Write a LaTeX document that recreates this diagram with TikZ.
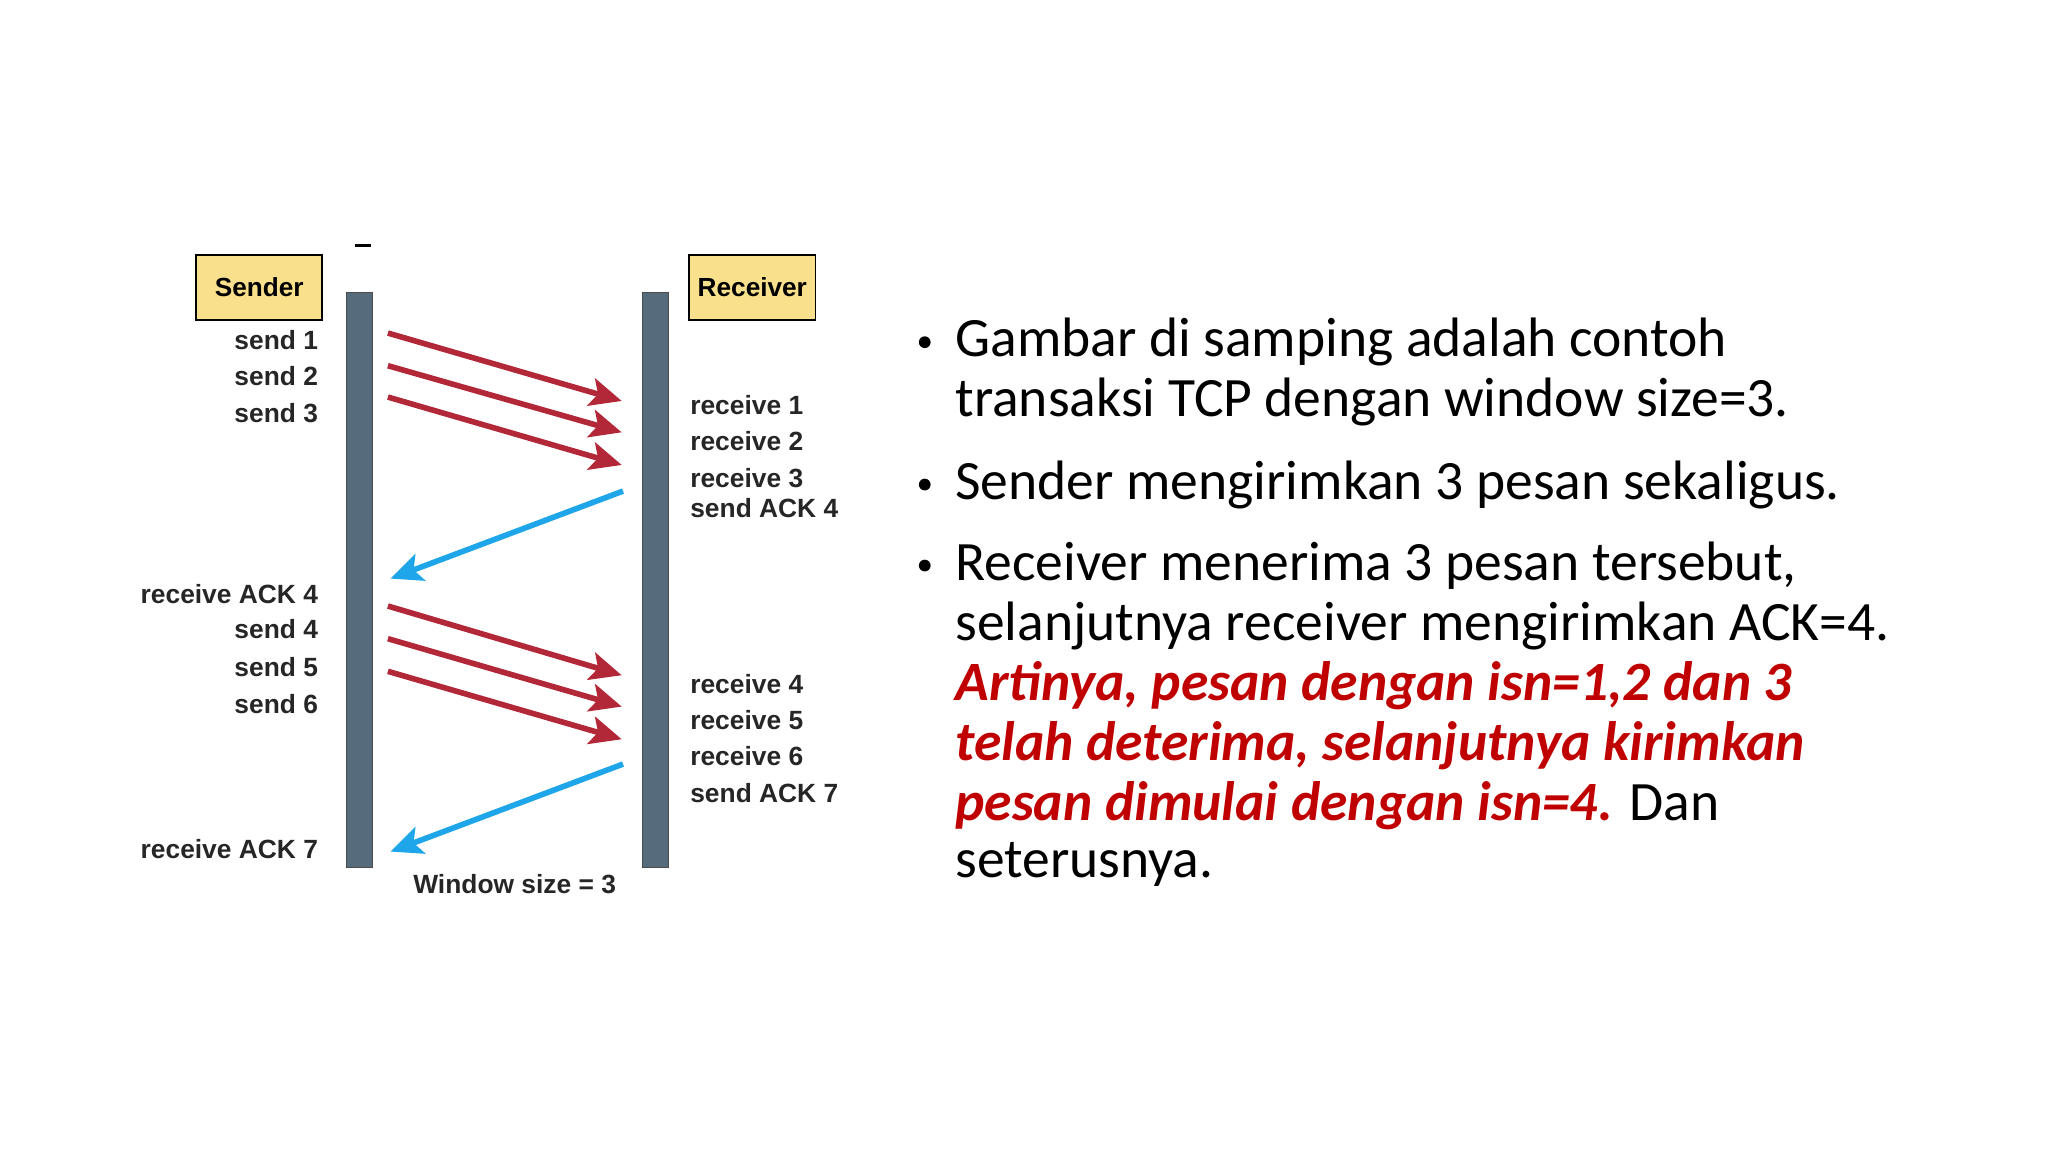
\documentclass[tikz,border=0pt]{standalone}
\usepackage{fontspec}
\setmainfont{Carlito}
\newfontfamily\lab{Liberation Sans}
\usetikzlibrary{arrows.meta}
\definecolor{boxy}{HTML}{F8E08C}
\definecolor{barc}{HTML}{566B7B}
\definecolor{redarr}{HTML}{B22838}
\definecolor{bluearr}{HTML}{1FA6EA}
\definecolor{redtxt}{HTML}{C00000}
\tikzset{
 hdr/.style={draw=black,fill=boxy,line width=0.5pt,minimum width=35.9pt,minimum height=18.5pt,inner sep=0pt,font=\lab\bfseries\fontsize{7.45}{8}\selectfont},
 bar/.style={draw=black!70,fill=barc,line width=0.3pt},
 lbl/.style={font=\lab\bfseries\fontsize{7.5}{8}\selectfont,inner sep=0pt,text=black!85},
 rarr/.style={draw=redarr,line width=1.6pt,-{Stealth[length=9pt,width=8pt,inset=2pt]}},
 barr/.style={draw=bluearr,line width=1.6pt,-{Stealth[length=9pt,width=8pt,inset=2pt]}},
 body/.style={font=\fontsize{15.8}{18}\selectfont,anchor=west,inner sep=0pt},
 emph/.style={body,font=\fontsize{15.8}{18}\selectfont\bfseries\itshape,text=redtxt}
}
\begin{document}
\begin{tikzpicture}[x=0.013062cm,y=-0.013062cm]
\useasboundingbox (0,0) rectangle (1568,882);
\node[hdr] (snd) at (198.5,220) {Sender};
\node[hdr] (rcv) at (576,220) {Receiver};
\draw[bar] (265,224) rectangle (285,664);
\draw[bar] (492,224) rectangle (512,664);
\draw[black,line width=1pt] (272,188) -- (284,188);
\foreach \t/\y [count=\i] in {send 1/260,send 2/288,send 3/316,receive ACK 4/455,send 4/482,send 5/511,send 6/539,receive ACK 7/650}
  \node[lbl,anchor=east] (sl\i) at (244,\y) {\t};
\foreach \t/\y [count=\i] in {receive 1/310,receive 2/338,receive 3/366,send ACK 4/389,receive 4/524,receive 5/551,receive 6/579,send ACK 7/607}
  \node[lbl,anchor=west] (rl\i) at (528,\y) {\t};
\node[lbl] (win) at (394,677) {Window size = 3};
\foreach \a/\b [count=\i] in {255/307,280/331,304/356,464/517,489/541,514/566}{
  \coordinate (rs\i) at (297,\a); \coordinate (re\i) at (476,\b);
  \draw[rarr] (rs\i) -- (re\i);}
\coordinate (bs1) at (477,376); \coordinate (be1) at (299,443);
\coordinate (bs2) at (477,585); \coordinate (be2) at (299,652);
\draw[barr] (bs1) -- (be1);
\draw[barr] (bs2) -- (be2);
\foreach \y in {262,371,433} \fill (708,\y) circle (4.5);
\node[body] (t1) at (731,262) {Gambar di samping adalah contoh};
\node[body] (t2) at (731,308) {transaksi TCP dengan window size=3.};
\node[body] (t3) at (731,371) {Sender mengirimkan 3 pesan sekaligus.};
\node[body] (t4) at (731,433) {Receiver menerima 3 pesan tersebut,};
\node[body] (t5) at (731,479) {selanjutnya receiver mengirimkan ACK=4.};
\node[emph] (t6) at (731,525) {Artinya, pesan dengan isn=1,2 dan 3};
\node[emph] (t7) at (731,571) {telah deterima, selanjutnya kirimkan};
\node[body] (t8) at (731,617) {{\bfseries\itshape\color{redtxt}pesan dimulai dengan isn=4.} Dan};
\node[body] (t9) at (731,662) {seterusnya.};
\end{tikzpicture}
\end{document}
